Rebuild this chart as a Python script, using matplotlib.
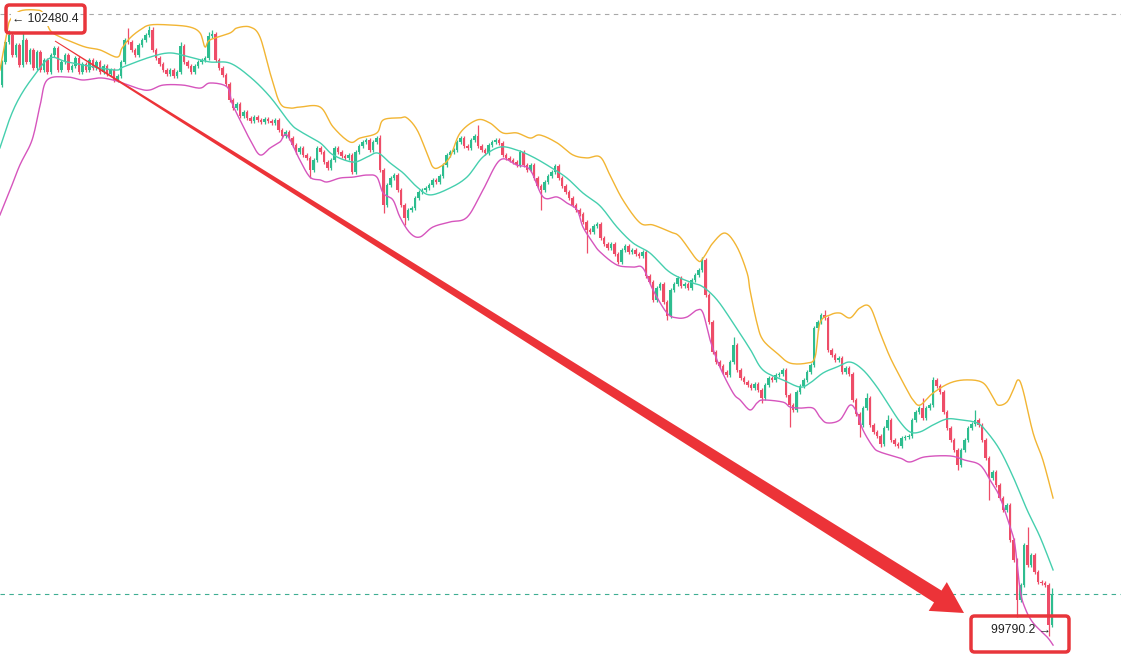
import numpy as np
import matplotlib
matplotlib.use("Agg")
import matplotlib.pyplot as plt
from matplotlib.patches import FancyBboxPatch, Polygon

# ---- data ----
first_open = 102173
close = [
    102273, 102359, 102390, 102303, 102346, 102260, 102368, 102273, 102325, 102247,
    102316, 102238, 102282, 102230, 102303, 102333, 102238, 102273, 102303, 102238,
    102256, 102290, 102230, 102264, 102238, 102282, 102247, 102273, 102230, 102256,
    102221, 102238, 102195, 102212, 102273, 102368, 102359, 102325, 102303, 102346,
    102368, 102390, 102411, 102325, 102290, 102264, 102238, 102221, 102238, 102212,
    102230, 102342, 102273, 102256, 102230, 102256, 102273, 102282, 102290, 102385,
    102394, 102282, 102247, 102217, 102178, 102109, 102074, 102091, 102039, 102057,
    102031, 102018, 102035, 102022, 102013, 102026, 102018, 102009, 102022, 101979,
    101953, 101970, 101944, 101914, 101884, 101901, 101871, 101858, 101806, 101849,
    101901, 101884, 101840, 101814, 101849, 101901, 101884, 101866, 101858, 101871,
    101797, 101884, 101910, 101927, 101936, 101892, 101927, 101944, 101806, 101654,
    101741, 101771, 101784, 101719, 101654, 101598, 101633, 101641, 101685, 101711,
    101719, 101728, 101741, 101763, 101754, 101780, 101827, 101871, 101884, 101892,
    101927, 101944, 101910, 101901, 101936, 101953, 101910, 101892, 101879, 101914,
    101927, 101936, 101923, 101871, 101858, 101849, 101840, 101827, 101884, 101827,
    101806, 101827, 101771, 101737, 101719, 101754, 101780, 101797, 101823, 101771,
    101737, 101711, 101685, 101654, 101633, 101615, 101581, 101546, 101538, 101564,
    101572, 101512, 101486, 101468, 101486, 101442, 101408, 101460, 101477, 101451,
    101460, 101442, 101434, 101451, 101347, 101321, 101244, 101295, 101313, 101235,
    101174, 101287, 101313, 101339, 101304, 101313, 101295, 101330, 101352, 101373,
    101417, 101265, 101148, 101019, 100975, 100958, 100932, 100919, 100975, 101049,
    100941, 100906, 100889, 100876, 100863, 100880, 100854, 100820, 100876, 100906,
    100898, 100919, 100923, 100941, 100833, 100789, 100768, 100846, 100871, 100898,
    100932, 100962, 101122, 101148, 101179, 101166, 101027, 101006, 100984, 100993,
    100932, 100949, 100923, 100811, 100750, 100703, 100776, 100820, 100703, 100673,
    100655, 100621, 100690, 100725, 100638, 100621, 100612, 100647, 100651, 100655,
    100725, 100759, 100776, 100733, 100776, 100789, 100898, 100871, 100846, 100759,
    100690, 100638, 100595, 100530, 100595, 100638, 100690, 100707, 100725, 100703,
    100638, 100560, 100474, 100500, 100443, 100387, 100335, 100357, 100206, 100119,
    99946, 100011, 100184, 100097, 100141, 100067, 100024, 100020, 100011, 99838, 99972,
]
wick = 9
high_at = {2: 102411, 6: 102398, 36: 102420, 42: 102429, 43: 102424, 51: 102359,
           59: 102403, 60: 102411, 108: 101957, 136: 102000, 200: 101429, 209: 101083,
           235: 101200, 247: 100841, 253: 100746, 263: 100820, 266: 100911,
           278: 100768, 293: 100262, 300: 99998}
low_at = {88: 101771, 109: 101620, 115: 101568, 154: 101633, 167: 101447,
          190: 101157, 217: 100798, 225: 100694, 245: 100651, 251: 100608,
          273: 100508, 282: 100379, 290: 99873, 299: 99790.2}

price_max = 102480.4
price_min = 99790.2

upper_idx = [-0.6, 1.4, 2.3, 5.1, 9.4, 11.7, 13.7, 16.6, 18.6, 23.7,
             28, 32.9, 34.3, 36.6, 39.4, 42.3, 48, 53.7, 56.6, 58,
             59.4, 65.1, 67.1, 70.9, 73.7, 76.6, 79.4, 82.3, 85.1, 90.9,
             94.6, 99.4, 102.3, 107.1, 108.9, 113.7, 115.7, 118.6, 121.4, 123.1,
             125.1, 128, 130.9, 135.7, 139.4, 143.1, 147.1, 150.9, 153.7, 158.6,
             163.1, 167.1, 170.9, 173.7, 177.4, 182.3, 186, 190.9, 193.7, 198.6,
             200.3, 203.1, 206.6, 210, 212.9, 213.7, 215.7, 217.4, 221.4, 225.1,
             230, 232.3, 233.7, 236.6, 239.4, 242.3, 245.1, 248, 250.9, 253.7,
             256.6, 258.6, 260.3, 262.3, 266, 270.9, 275.7, 280.3, 283.1, 284.6,
             287.1, 288.9, 290.3, 291.7, 294.6, 297.4, 300.3]
upper_val = [102238, 102398, 102454, 102493, 102498, 102485, 102411, 102381, 102368, 102338,
             102325, 102294, 102333, 102377, 102411, 102433, 102433, 102424, 102398, 102338,
             102368, 102398, 102420, 102424, 102381, 102225, 102096, 102074, 102078, 102078,
             101992, 101927, 101944, 101966, 102022, 102031, 102031, 101979, 101879, 101819,
             101819, 101862, 101966, 102022, 102009, 101966, 101966, 101944, 101957, 101923,
             101871, 101858, 101862, 101784, 101676, 101577, 101568, 101538, 101516, 101417,
             101425, 101490, 101533, 101473, 101360, 101287, 101144, 101071, 101014, 100971,
             100971, 100997, 101144, 101179, 101187, 101166, 101209, 101213, 101101, 100997,
             100911, 100854, 100811, 100789, 100841, 100885, 100898, 100885, 100824, 100789,
             100802, 100854, 100898, 100854, 100668, 100551, 100387]

middle_idx = [-0.6, 2.3, 5.1, 8.9, 13.7, 18.6, 28, 32.9, 34.6, 42.3,
              48, 53.7, 59.4, 65.1, 70.9, 76.6, 82.3, 85.1, 90.9, 94.6,
              100.3, 104.3, 107.4, 110.9, 114.6, 118.6, 122.3, 128, 132.9, 137.4,
              142.3, 147.1, 151.7, 156.6, 161.4, 166, 170.9, 175.7, 180.3, 185.1,
              190, 193.7, 197.4, 200.3, 204.3, 208.9, 213.7, 217.4, 223.1, 228,
              230.9, 234.6, 238.6, 242.3, 246, 250, 253.7, 256.6, 259.4, 262.3,
              266, 270, 273.7, 278.6, 281.4, 285.1, 288.9, 292.9, 296.6, 300.3]
middle_val = [101901, 102031, 102122, 102208, 102290, 102273, 102247, 102238, 102251, 102294,
              102312, 102294, 102273, 102268, 102208, 102122, 102009, 101974, 101923, 101871,
              101840, 101862, 101879, 101836, 101793, 101732, 101698, 101728, 101776, 101862,
              101905, 101892, 101862, 101819, 101771, 101706, 101650, 101559, 101490, 101447,
              101373, 101339, 101317, 101300, 101244, 101144, 101032, 100941, 100898, 100867,
              100885, 100928, 100954, 100975, 100941, 100867, 100781, 100716, 100673, 100673,
              100703, 100729, 100725, 100712, 100673, 100595, 100478, 100335, 100218, 100076]

lower_idx = [-0.6, 2.3, 5.1, 8.6, 10.9, 12.9, 18.6, 23.1, 28, 31.7,
             33.7, 39.4, 42.3, 46, 51.7, 56.6, 59.4, 64.3, 65.7, 68,
             70.9, 73.7, 76.6, 79.4, 81.4, 85.1, 88, 90.9, 92.9, 96.6,
             100.3, 104.3, 107.1, 108.9, 111.7, 113.7, 116.6, 119.4, 123.1, 128,
             132.9, 137.4, 142.3, 147.1, 150.9, 154.6, 158.6, 161.4, 164.3, 166,
             168.9, 170.9, 175.7, 180.3, 183.1, 186, 190, 192.9, 195.7, 198.6,
             200.3, 202.3, 205.1, 208.9, 210.9, 213.7, 215.7, 217.4, 223.1, 225.1,
             228, 231.7, 233.7, 235.7, 239.4, 242.3, 244.3, 246, 248.9, 250.9,
             256.6, 259.4, 263.7, 270.9, 275.1, 279.4, 282.3, 285.1, 288, 289.4,
             290.9, 292.3, 294.6, 298.6, 300.3]
lower_val = [101611, 101719, 101827, 101936, 102087, 102195, 102208, 102195, 102204, 102195,
             102186, 102156, 102152, 102173, 102173, 102160, 102182, 102165, 102096, 102022,
             101936, 101871, 101901, 101927, 101957, 101849, 101775, 101763, 101754, 101771,
             101775, 101784, 101775, 101706, 101676, 101602, 101533, 101516, 101559, 101581,
             101602, 101719, 101849, 101827, 101806, 101689, 101689, 101663, 101633, 101559,
             101490, 101451, 101395, 101386, 101382, 101287, 101187, 101166, 101170, 101200,
             101187, 101071, 100954, 100841, 100811, 100768, 100798, 100811, 100802, 100781,
             100776, 100776, 100737, 100712, 100725, 100789, 100755, 100681, 100608, 100586,
             100560, 100543, 100565, 100569, 100551, 100530, 100465, 100391, 100262, 100184,
             99989, 99911, 99847, 99786, 99751]

up_col = "#2ebd8f"
down_col = "#ee4d68"

W, H = 1121, 660
fig = plt.figure(figsize=(W / 100, H / 100), dpi=100)
fig.patch.set_facecolor("white")
ax = fig.add_axes([0, 0, 1, 1])
ax.set_axis_off()
ax.set_xlim(-0.571, 319.71)
ax.set_ylim(99686.5, 102541.0)


def smooth_curve(xs, ys, steps=10):
    # Catmull-Rom through the read points, only for drawing a rounder line
    p = np.column_stack([xs, ys]).astype(float)
    p = np.vstack([p[0], p, p[-1]])
    out = []
    t = np.linspace(0, 1, steps, endpoint=False)[:, None]
    for k in range(1, len(p) - 2):
        p0, p1, p2, p3 = p[k - 1], p[k], p[k + 1], p[k + 2]
        seg = 0.5 * ((2 * p1) + (-p0 + p2) * t + (2 * p0 - 5 * p1 + 4 * p2 - p3) * t ** 2
                     + (-p0 + 3 * p1 - 3 * p2 + p3) * t ** 3)
        out.append(seg)
    out.append(p[-2][None, :])
    out = np.vstack(out)
    return out[:, 0], out[:, 1]


c = np.array(close, dtype=float)
o = np.concatenate([[first_open], c[:-1]])
top = np.maximum(o, c)
bot = np.minimum(o, c)
hi = top + wick
lo = bot - wick
for k, v in high_at.items():
    hi[k] = max(hi[k], v)
for k, v in low_at.items():
    lo[k] = min(lo[k], v)
x = np.arange(len(c))
cols = np.where(c >= o, up_col, down_col)

ax.axhline(price_max, color="#a8a8a8", lw=0.8, ls=(0, (4, 4)), zorder=1)
ax.axhline(c[-1], color="#3fae92", lw=0.8, ls=(0, (4, 4)), zorder=1)

ax.vlines(x, lo, hi, colors=cols, lw=0.9, zorder=2)
ax.bar(x, np.maximum(top - bot, 3), bottom=bot, width=0.68, color=cols, lw=0, zorder=2)

for xs, ys, col in [(upper_idx, upper_val, "#f2b533"),
                    (middle_idx, middle_val, "#45cfae"),
                    (lower_idx, lower_val, "#d655bd")]:
    sx, sy = smooth_curve(xs, ys)
    ax.plot(sx, sy, color=col, lw=1.0, zorder=3)


def px(xp, yp):
    return (xp / 100.0, (H - yp) / 100.0)


tr = fig.dpi_scale_trans
fam = ["Liberation Sans", "DejaVu Sans"]
ax.text(*px(12, 19), "\u2190 " + f"{price_max:.1f}", transform=tr, ha="left", va="center",
        fontsize=8.8, family=fam, color="#222222", zorder=4,
        bbox=dict(facecolor="white", edgecolor="none", pad=0.8))
ax.text(*px(1051, 630), f"{price_min:.1f}" + " \u2192", transform=tr, ha="right", va="center",
        fontsize=8.8, family=fam, color="#222222", zorder=4)

# big red arrow (tapered)
S = np.array([55.0, 41.0])
T = np.array([964.0, 613.0])
u = (T - S) / np.linalg.norm(T - S)
n = np.array([-u[1], u[0]])
B = T - 31 * u
pts_px = [S + 0.5 * n, B + 7 * n, B + 17 * n, T, B - 17 * n, B - 7 * n, S - 0.5 * n]
arrow = Polygon([px(*p) for p in pts_px], closed=True, transform=tr,
                facecolor="#ec3338", edgecolor="none", zorder=5)
ax.add_patch(arrow)

for (x0, y0, x1, y1) in [(6, 5, 85, 33), (971, 616, 1069, 652)]:
    bx, by = px(x0, y1)
    box = FancyBboxPatch((bx, by), (x1 - x0) / 100.0, (y1 - y0) / 100.0,
                         boxstyle="round,pad=0,rounding_size=0.035", transform=tr,
                         facecolor="none", edgecolor="#e8353b", lw=2.5, zorder=6)
    ax.add_patch(box)

fig.savefig("out.png", dpi=100)
